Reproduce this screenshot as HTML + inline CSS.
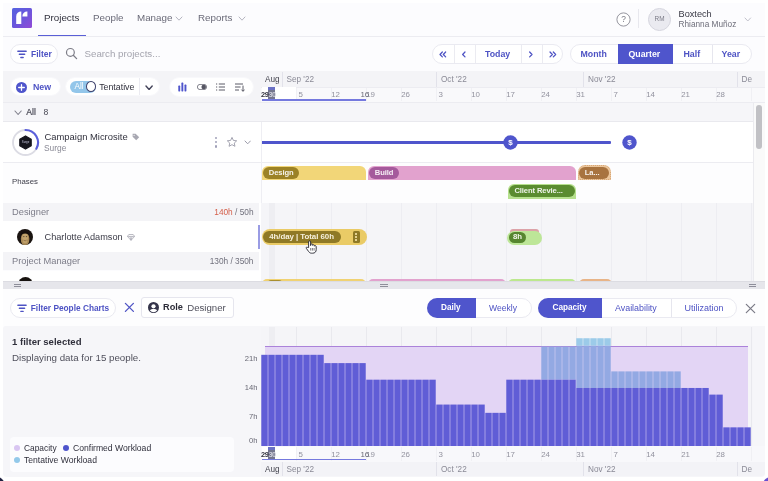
<!DOCTYPE html>
<html lang="en"><head><meta charset="utf-8"><title>Projects</title>
<style>
*{box-sizing:border-box;margin:0;padding:0}
html,body{width:768px;height:481px;overflow:hidden;background:#fff}
body{font-family:"Liberation Sans",sans-serif;position:relative;color:#3c3c4a;-webkit-font-smoothing:antialiased}
.a{position:absolute}
.t{position:absolute;white-space:nowrap;line-height:1}
.pill{position:absolute;border:1px solid #eaeaf1;border-radius:10px;background:#fff}
.b{font-weight:bold}
.wl{position:absolute;width:1px;background:#e6e6ec}
</style></head>
<body>
<div id="root" style="position:absolute;left:0;top:0;width:768px;height:481px;will-change:transform;transform:translateZ(0);filter:blur(0.35px)">
<div class="a" style="left:3px;top:3px;width:762px;height:474px;background:#fcfcfe;border-radius:0 0 4px 4px"></div>
<div class="a" style="left:3px;top:36px;width:762px;height:1px;background:#ececf1"></div>
<svg class="a" style="left:12px;top:8px" width="20" height="20" viewBox="0 0 20 20">
<defs><linearGradient id="lg" x1="0" y1="0" x2="1" y2="1"><stop offset="0" stop-color="#5563e0"/><stop offset="0.5" stop-color="#6a56dc"/><stop offset="1" stop-color="#9149d6"/></linearGradient></defs>
<rect width="20" height="20" rx="1.5" fill="url(#lg)"/>
<path d="M4.2 15.9V8.4A4.9 4.9 0 0 1 9.3 3.5V15.9Z" fill="#fff"/>
<path d="M10.4 8.6V8.3A4.6 4.6 0 0 1 15.4 3.6V8.6Z" fill="#fff"/>
</svg>
<div class="t" id="nav1" style="left:44px;top:13px;font-size:9.8px;color:#33333f;">Projects</div>
<div class="t" id="nav2" style="left:93px;top:13px;font-size:9.8px;color:#6a6a78;">People</div>
<div class="t" id="nav3" style="left:137px;top:13px;font-size:9.8px;color:#6a6a78;">Manage</div>
<div class="t" id="nav4" style="left:198px;top:13px;font-size:9.8px;color:#6a6a78;">Reports</div>
<svg class="a" style="left:175px;top:16px" width="8" height="5.2" viewBox="-1 -1 8 5.2"><path d="M0 0L3.0 3.2L6 0" fill="none" stroke="#b5b5c0" stroke-width="1" stroke-linecap="round" stroke-linejoin="round"/></svg>
<svg class="a" style="left:238px;top:16px" width="8" height="5.2" viewBox="-1 -1 8 5.2"><path d="M0 0L3.0 3.2L6 0" fill="none" stroke="#b5b5c0" stroke-width="1" stroke-linecap="round" stroke-linejoin="round"/></svg>
<div class="a" style="left:37.5px;top:34.6px;width:48.5px;height:1.6px;background:#5a5fd6"></div>
<svg class="a" style="left:616px;top:11.5px" width="15" height="15" viewBox="0 0 15 15"><circle cx="7.5" cy="7.5" r="6.6" fill="#fff" stroke="#8a8a94" stroke-width="0.9"/><text x="7.5" y="10.4" font-size="8.4" text-anchor="middle" fill="#777782" font-family="Liberation Sans, sans-serif">?</text></svg>
<div class="a" style="left:638.4px;top:8.5px;width:1px;height:19.5px;background:#e8e8ee"></div>
<div class="a" style="left:647.8px;top:7.9px;width:23.6px;height:23.6px;border-radius:50%;background:#eaeaf0;border:1px solid #d6d6df"></div>
<div class="t" id="rm" style="left:654.4px;top:16.2px;font-size:6.4px;color:#7a7a86;letter-spacing:0.2px">RM</div>
<div class="t" id="box" style="left:678.5px;top:9.9px;font-size:9.2px;color:#383844;">Boxtech</div>
<div class="t" id="rhi" style="left:678.5px;top:20.9px;font-size:8.25px;color:#6e6e7a;">Rhianna Muñoz</div>
<svg class="a" style="left:744.2px;top:17.2px" width="7.6" height="5" viewBox="-1 -1 7.6 5"><path d="M0 0L2.8 3L5.6 0" fill="none" stroke="#c2c2cc" stroke-width="1" stroke-linecap="round" stroke-linejoin="round"/></svg>
<div class="pill" style="left:10px;top:44px;width:48px;height:20px;"></div>
<svg class="a" style="left:17px;top:49.5px" width="10" height="9" viewBox="0 0 10 9"><g stroke="#4e53c4" stroke-width="1.5" stroke-linecap="round"><path d="M0.9 1.2H9.1"/><path d="M2.4 4.3H7.6"/><path d="M3.9 7.4H6.1"/></g></svg>
<div class="t" id="filter" style="left:31px;top:49.9px;font-size:8.5px;color:#4e53c4;font-weight:bold">Filter</div>
<svg class="a" style="left:65px;top:47px" width="13" height="13" viewBox="0 0 13 13"><circle cx="5.4" cy="5.4" r="3.9" fill="none" stroke="#7c7c86" stroke-width="1.2"/><path d="M8.3 8.3L11.6 11.6" stroke="#7c7c86" stroke-width="1.3" stroke-linecap="round"/></svg>
<div class="t" id="search" style="left:84.5px;top:49.4px;font-size:9.75px;color:#a4a4ae;">Search projects...</div>
<div class="pill" style="left:432px;top:44px;width:131px;height:20px;"></div>
<div class="a" style="left:453.5px;top:45px;width:1px;height:18px;background:#ebebf1"></div>
<div class="a" style="left:474.5px;top:45px;width:1px;height:18px;background:#ebebf1"></div>
<div class="a" style="left:521px;top:45px;width:1px;height:18px;background:#ebebf1"></div>
<div class="a" style="left:542px;top:45px;width:1px;height:18px;background:#ebebf1"></div>
<svg class="a" style="left:439px;top:50.6px" width="9" height="8" viewBox="-1 -1 9 8"><path d="M2.35 0L0 2.45L2.35 4.9 M5.65 0L3.3 2.45L5.65 4.9" fill="none" stroke="#4e53c4" stroke-width="1.25" stroke-linecap="round" stroke-linejoin="round"/></svg>
<svg class="a" style="left:460.3px;top:50.6px" width="9" height="8" viewBox="-1 -1 9 8"><path d="M4.0 0L1.65 2.45L4.0 4.9" fill="none" stroke="#4e53c4" stroke-width="1.25" stroke-linecap="round" stroke-linejoin="round"/></svg>
<div class="t" id="today" style="left:485px;top:49.6px;font-size:8.8px;color:#4e53c4;font-weight:bold">Today</div>
<svg class="a" style="left:527.3px;top:50.6px" width="9" height="8" viewBox="-1 -1 9 8"><path d="M1.65 0L4.0 2.45L1.65 4.9" fill="none" stroke="#4e53c4" stroke-width="1.25" stroke-linecap="round" stroke-linejoin="round"/></svg>
<svg class="a" style="left:549px;top:50.6px" width="9" height="8" viewBox="-1 -1 9 8"><path d="M0 0L2.35 2.45L0 4.9 M3.3 0L5.65 2.45L3.3 4.9" fill="none" stroke="#4e53c4" stroke-width="1.25" stroke-linecap="round" stroke-linejoin="round"/></svg>
<div class="pill" style="left:570px;top:44px;width:181.5px;height:20px;overflow:hidden"></div>
<div class="a" style="left:618px;top:44px;width:55px;height:20px;background:#4f55cc"></div>
<div class="a" style="left:711.5px;top:45px;width:1px;height:18px;background:#e6e6ee"></div>
<div class="t" id="month" style="left:580.5px;top:49.6px;font-size:8.8px;color:#4e53c4;font-weight:bold">Month</div>
<div class="t" id="quarter" style="left:628.5px;top:49.6px;font-size:8.8px;color:#fff;font-weight:bold">Quarter</div>
<div class="t" id="half" style="left:683.5px;top:49.6px;font-size:8.8px;color:#4e53c4;font-weight:bold">Half</div>
<div class="t" id="year" style="left:721.5px;top:49.6px;font-size:8.8px;color:#4e53c4;font-weight:bold">Year</div>
<div class="a" style="left:3px;top:70.5px;width:762px;height:32px;background:#f4f4f7"></div>
<div class="a" style="left:3px;top:102px;width:762px;height:20px;background:#f6f6f9;border-top:1px solid #ececf1;border-bottom:1px solid #e9e9ee"></div>
<div class="pill" style="left:10px;top:76.9px;width:51.4px;height:19.2px;border-color:#f8f8fb"></div>
<svg class="a" style="left:16px;top:81.5px" width="11" height="11" viewBox="0 0 11 11"><circle cx="5.5" cy="5.5" r="5.5" fill="#4f55cc"/><path d="M5.5 2.7V8.3M2.7 5.5H8.3" stroke="#fff" stroke-width="1.3" stroke-linecap="round"/></svg>
<div class="t" id="new" style="left:33px;top:82.6px;font-size:8.8px;color:#4e53c4;font-weight:bold">New</div>
<div class="pill" style="left:65.3px;top:76.9px;width:94.4px;height:19.2px;border-color:#f8f8fb"></div>
<div class="a" style="left:138.5px;top:78px;width:1px;height:17px;background:#ebebf1"></div>
<div class="a" style="left:69.5px;top:81px;width:26px;height:11.5px;background:#93c6ea;border-radius:6px"></div>
<div class="t" id="all" style="left:74.5px;top:82.9px;font-size:8.2px;color:#fff;">All</div>
<div class="a" style="left:85.8px;top:81.2px;width:10px;height:10.6px;background:#fff;border:1px solid #43436c;border-radius:50%"></div>
<div class="t" id="tent" style="left:99.2px;top:82.5px;font-size:8.8px;color:#30303c;">Tentative</div>
<svg class="a" style="left:144.9px;top:84.6px" width="8.2" height="5.5" viewBox="-1 -1 8.2 5.5"><path d="M0 0L3.1 3.5L6.2 0" fill="none" stroke="#44445a" stroke-width="1.4" stroke-linecap="round" stroke-linejoin="round"/></svg>
<div class="pill" style="left:168.8px;top:76.9px;width:85px;height:20.2px;border-color:#f8f8fb"></div>
<svg class="a" style="left:178px;top:82px" width="9" height="10" viewBox="0 0 9 10"><g fill="#4f55cc"><rect x="0.3" y="3.6" width="1.9" height="5.8" rx="0.6"/><rect x="3.4" y="0.6" width="1.9" height="8.8" rx="0.6"/><rect x="6.5" y="2.6" width="1.9" height="6.8" rx="0.6"/></g></svg>
<svg class="a" style="left:197px;top:84px" width="10" height="6" viewBox="0 0 10 6"><rect x="0.4" y="0.4" width="9.2" height="5.2" rx="2.6" fill="#fff" stroke="#666672" stroke-width="0.8"/><circle cx="6.7" cy="3" r="2.3" fill="#555562"/></svg>
<svg class="a" style="left:216px;top:82.5px" width="9" height="8" viewBox="0 0 9 8"><g stroke="#5a5a66" stroke-width="1"><path d="M0 1H1.2M2.8 1H9M0 4H1.2M2.8 4H9M0 7H1.2M2.8 7H9"/></g></svg>
<svg class="a" style="left:234.5px;top:82.5px" width="10" height="9" viewBox="0 0 10 9"><g stroke="#5a5a66" stroke-width="1" fill="none"><path d="M0 1H8M0 4H5.6M0 7H4"/><path d="M8 2.6V8.2M6.4 6.6L8 8.3L9.6 6.6"/></g></svg>
<div class="a" style="left:261px;top:87px;width:504px;height:15px;background:#f9f9fb"></div>
<div class="a" style="left:261px;top:86.5px;width:504px;height:0.8px;background:#ececf1"></div>
<div class="a" style="left:282px;top:72px;width:1px;height:14.5px;background:#e2e2ea"></div>
<div class="a" style="left:436px;top:72px;width:1px;height:14.5px;background:#e2e2ea"></div>
<div class="a" style="left:583px;top:72px;width:1px;height:14.5px;background:#e2e2ea"></div>
<div class="a" style="left:737px;top:72px;width:1px;height:14.5px;background:#e2e2ea"></div>
<div class="t" id="aug" style="left:265px;top:76.2px;font-size:8.2px;color:#44444f;">Aug</div>
<div class="t" id="sep" style="left:286.5px;top:76.2px;font-size:8.2px;color:#8a8a96;">Sep '22</div>
<div class="t" style="left:441px;top:76.2px;font-size:8.2px;color:#8a8a96;">Oct '22</div>
<div class="t" style="left:588px;top:76.2px;font-size:8.2px;color:#8a8a96;">Nov '22</div>
<div class="t" style="left:741.5px;top:76.2px;font-size:8.2px;color:#8a8a96;">De</div>
<div class="a" style="left:262px;top:87.3px;width:33.8px;height:12px;background:#fff"></div>
<div class="a" style="left:268.3px;top:87.3px;width:7.2px;height:12px;background:#74768e"></div>
<div class="a" style="left:268.3px;top:87.3px;width:7.2px;height:2.6px;background:#6a70c4"></div>
<div class="a" style="left:296px;top:88px;width:1px;height:13px;background:#f0f0f4"></div>
<div class="t" id="d1" style="left:292.6px;width:16px;text-align:center;top:90.8px;font-size:7.9px;color:#92929e">5</div>
<div class="a" style="left:331px;top:88px;width:1px;height:13px;background:#f0f0f4"></div>
<div class="t" id="d2" style="left:327.6px;width:16px;text-align:center;top:90.8px;font-size:7.9px;color:#92929e">12</div>
<div class="a" style="left:366px;top:88px;width:1px;height:13px;background:#f0f0f4"></div>
<div class="t" id="d3" style="left:362.6px;width:16px;text-align:center;top:90.8px;font-size:7.9px;color:#92929e">19</div>
<div class="a" style="left:401px;top:88px;width:1px;height:13px;background:#f0f0f4"></div>
<div class="t" id="d4" style="left:397.6px;width:16px;text-align:center;top:90.8px;font-size:7.9px;color:#92929e">26</div>
<div class="a" style="left:436px;top:88px;width:1px;height:13px;background:#f0f0f4"></div>
<div class="t" id="d5" style="left:432.6px;width:16px;text-align:center;top:90.8px;font-size:7.9px;color:#92929e">3</div>
<div class="a" style="left:471px;top:88px;width:1px;height:13px;background:#f0f0f4"></div>
<div class="t" id="d6" style="left:467.6px;width:16px;text-align:center;top:90.8px;font-size:7.9px;color:#92929e">10</div>
<div class="a" style="left:506px;top:88px;width:1px;height:13px;background:#f0f0f4"></div>
<div class="t" id="d7" style="left:502.6px;width:16px;text-align:center;top:90.8px;font-size:7.9px;color:#92929e">17</div>
<div class="a" style="left:541px;top:88px;width:1px;height:13px;background:#f0f0f4"></div>
<div class="t" id="d8" style="left:537.6px;width:16px;text-align:center;top:90.8px;font-size:7.9px;color:#92929e">24</div>
<div class="a" style="left:576px;top:88px;width:1px;height:13px;background:#f0f0f4"></div>
<div class="t" id="d9" style="left:572.6px;width:16px;text-align:center;top:90.8px;font-size:7.9px;color:#92929e">31</div>
<div class="a" style="left:611px;top:88px;width:1px;height:13px;background:#f0f0f4"></div>
<div class="t" id="d10" style="left:607.6px;width:16px;text-align:center;top:90.8px;font-size:7.9px;color:#92929e">7</div>
<div class="a" style="left:646px;top:88px;width:1px;height:13px;background:#f0f0f4"></div>
<div class="t" id="d11" style="left:642.6px;width:16px;text-align:center;top:90.8px;font-size:7.9px;color:#92929e">14</div>
<div class="a" style="left:681px;top:88px;width:1px;height:13px;background:#f0f0f4"></div>
<div class="t" id="d12" style="left:677.6px;width:16px;text-align:center;top:90.8px;font-size:7.9px;color:#92929e">21</div>
<div class="a" style="left:716px;top:88px;width:1px;height:13px;background:#f0f0f4"></div>
<div class="t" id="d13" style="left:712.6px;width:16px;text-align:center;top:90.8px;font-size:7.9px;color:#92929e">28</div>
<div class="a" style="left:751px;top:88px;width:1px;height:13px;background:#f0f0f4"></div>
<div class="t" style="left:261px;top:91px;font-size:7.4px;color:#33333f;font-weight:bold;letter-spacing:-0.4px">29</div>
<div class="t" style="left:268.6px;top:91px;font-size:7.4px;color:#d0d0da;font-weight:bold;letter-spacing:-0.6px">30</div>
<div class="t" style="left:360.4px;top:90.8px;font-size:7.9px;color:#6a6a78;">16</div>
<div class="a" style="left:261.5px;top:99.3px;width:104.8px;height:1.25px;background:#7579de"></div>
<svg class="a" style="left:13.8px;top:109.7px" width="8.2" height="5.5" viewBox="-1 -1 8.2 5.5"><path d="M0 0L3.1 3.5L6.2 0" fill="none" stroke="#80808c" stroke-width="1.1" stroke-linecap="round" stroke-linejoin="round"/></svg>
<div class="t" id="allrow" style="left:26.3px;top:107.9px;font-size:8.6px;color:#484854;-webkit-text-stroke:0.2px #484854">All</div>
<div class="t" id="eight" style="left:43.6px;top:107.9px;font-size:8.6px;color:#484854;">8</div>
<div class="a" style="left:3px;top:122px;width:750px;height:39.5px;background:#fff"></div>
<div class="a" style="left:3px;top:161.5px;width:750px;height:1px;background:#ececf1"></div>
<svg class="a" style="left:11px;top:128px" width="29" height="29" viewBox="0 0 29 29">
<circle cx="14.5" cy="14.5" r="12.5" fill="#fff" stroke="#dcdce4" stroke-width="1.9"/>
<path d="M14.5 2A12.5 12.5 0 0 1 25.33 20.75" fill="none" stroke="#5b60dc" stroke-width="2.1" stroke-linecap="round"/>
<path d="M14.5 7.9L20.2 11.2V17.8L14.5 21.1L8.8 17.8V11.2Z" fill="#16161e" stroke="#16161e" stroke-width="1.2" stroke-linejoin="round"/>
<text x="14.5" y="15.4" font-size="2.8" fill="#c8c8e0" text-anchor="middle" font-family="Liberation Sans, sans-serif">Surge</text>
</svg>
<div class="t" id="camp" style="left:44.5px;top:132.3px;font-size:9.42px;color:#33333f;">Campaign Microsite</div>
<svg class="a" style="left:131.5px;top:133px" width="8" height="8" viewBox="0 0 8 8"><path d="M0.6 0.8H3.6L7.2 4.3L4.2 7.3L0.6 3.8Z" fill="#a8a8b2"/><circle cx="2.1" cy="2.3" r="0.6" fill="#fff"/></svg>
<div class="t" id="surge" style="left:44px;top:144px;font-size:8.4px;color:#8a8a96;">Surge</div>
<div class="a" style="left:215px;top:137.0px;width:2.2px;height:2.2px;background:#a0a0b8;border-radius:50%"></div>
<div class="a" style="left:215px;top:141.20000000000002px;width:2.2px;height:2.2px;background:#a0a0b8;border-radius:50%"></div>
<div class="a" style="left:215px;top:145.4px;width:2.2px;height:2.2px;background:#a0a0b8;border-radius:50%"></div>
<svg class="a" style="left:225.6px;top:136.2px" width="12" height="12" viewBox="0 0 24 24"><path d="M12 2.8l2.8 6.1 6.6.7-4.9 4.5 1.4 6.5L12 17.3 6.1 20.6l1.4-6.5L2.6 9.6l6.6-.7z" fill="none" stroke="#9a9aa8" stroke-width="1.8" stroke-linejoin="round"/></svg>
<svg class="a" style="left:243.8px;top:140px" width="7.4" height="4.8" viewBox="-1 -1 7.4 4.8"><path d="M0 0L2.7 2.8L5.4 0" fill="none" stroke="#9a9aa8" stroke-width="1" stroke-linecap="round" stroke-linejoin="round"/></svg>
<div class="a" style="left:261px;top:140.5px;width:350px;height:3px;background:#4f55cc;border-radius:1px"></div>
<svg class="a" style="left:502.5px;top:134.5px" width="15" height="15" viewBox="0 0 15 15"><circle cx="7.5" cy="7.5" r="7.2" fill="#4f55cc"/><text x="7.5" y="10.3" font-size="8" font-weight="bold" fill="#fff" text-anchor="middle" font-family="Liberation Sans, sans-serif">$</text></svg>
<svg class="a" style="left:621.5px;top:134.5px" width="15" height="15" viewBox="0 0 15 15"><circle cx="7.5" cy="7.5" r="7.2" fill="#4f55cc"/><text x="7.5" y="10.3" font-size="8" font-weight="bold" fill="#fff" text-anchor="middle" font-family="Liberation Sans, sans-serif">$</text></svg>
<div class="a" style="left:3px;top:162.5px;width:750px;height:40px;background:#fdfdfe"></div>
<div class="a" style="left:261px;top:122px;width:1px;height:80.5px;background:#eeeef3"></div>
<div class="t" id="phases" style="left:12px;top:178.2px;font-size:7.8px;color:#3c3c48;">Phases</div>
<div class="a" style="left:262px;top:165.7px;width:103.5px;height:14.3px;background:#f2d678;border-radius:6px 6px 0 0;"></div>
<div class="a" style="left:262.8px;top:167.2px;width:36.5px;height:11.8px;background:#9c8226;border-radius:6.5px;"><div class="t" id="design" style="left:6.0px;top:1.80px;font-size:7.6px;color:rgba(255,255,255,0.9);font-weight:bold;letter-spacing:-0.1px">Design</div></div>
<div class="a" style="left:368px;top:165.7px;width:208px;height:14.3px;background:#e2a2ce;border-radius:6px 6px 0 0;"></div>
<div class="a" style="left:368.8px;top:167.2px;width:30px;height:11.8px;background:#a55a9c;border-radius:6.5px;"><div class="t" id="build" style="left:6.0px;top:1.80px;font-size:7.6px;color:rgba(255,255,255,0.9);font-weight:bold;letter-spacing:-0.1px">Build</div></div>
<div class="a" style="left:578px;top:165.4px;width:33.2px;height:14.8px;background:#ecc69c;border-radius:6px 6px 0 0;border:1px dotted #d8a878;border-radius:7px 7px 1px 1px;"></div>
<div class="a" style="left:579.4px;top:166.9px;width:29.6px;height:11.8px;background:#a8733f;border-radius:6.5px;"><div class="t" id="la" style="left:5.4px;top:1.80px;font-size:7.6px;color:rgba(255,255,255,0.9);font-weight:bold;letter-spacing:-0.1px">La...</div></div>
<div class="a" style="left:507.6px;top:184.1px;width:68.6px;height:14.5px;background:#b6e08e;border-radius:6px 6px 0 0;"></div>
<div class="a" style="left:508.6px;top:185.0px;width:66.2px;height:12.4px;background:#5a8c30;border-radius:6.5px;"><div class="t" id="client" style="left:5.8px;top:2.10px;font-size:7.6px;color:rgba(255,255,255,0.9);font-weight:bold;letter-spacing:-0.1px">Client Revie...</div></div>
<div class="a" style="left:3px;top:202.5px;width:750px;height:18.7px;background:#f4f4f7"></div>
<div class="t" id="designer" style="left:12px;top:208.1px;font-size:9.3px;color:#7c7c88;">Designer</div>
<div class="t" id="designerr" style="right:514.5px;top:208.1px;font-size:8.3px;color:#70707c"><span style="color:#d4604c">140h</span> / 50h</div>
<div class="a" style="left:3px;top:221.2px;width:750px;height:31px;background:#fff"></div>
<div class="a" style="left:3px;top:252.2px;width:750px;height:18.3px;background:#f4f4f7"></div>
<div class="t" id="pm" style="left:12px;top:256.8px;font-size:9.3px;color:#7c7c88;">Project Manager</div>
<div class="t" id="pmr" style="right:514.5px;top:256.8px;font-size:8.3px;color:#70707c">130h / 350h</div>
<div class="a" style="left:3px;top:270.5px;width:750px;height:13px;background:#fff"></div>
<div class="a" style="left:261px;top:203px;width:492px;height:80px;background:#f5f5f8"></div>
<div class="a" style="left:296px;top:203px;width:1px;height:80px;background:#ededf2"></div>
<div class="a" style="left:331px;top:203px;width:1px;height:80px;background:#ededf2"></div>
<div class="a" style="left:366px;top:203px;width:1px;height:80px;background:#ededf2"></div>
<div class="a" style="left:401px;top:203px;width:1px;height:80px;background:#ededf2"></div>
<div class="a" style="left:436px;top:203px;width:1px;height:80px;background:#ededf2"></div>
<div class="a" style="left:471px;top:203px;width:1px;height:80px;background:#ededf2"></div>
<div class="a" style="left:506px;top:203px;width:1px;height:80px;background:#ededf2"></div>
<div class="a" style="left:541px;top:203px;width:1px;height:80px;background:#ededf2"></div>
<div class="a" style="left:576px;top:203px;width:1px;height:80px;background:#ededf2"></div>
<div class="a" style="left:611px;top:203px;width:1px;height:80px;background:#ededf2"></div>
<div class="a" style="left:646px;top:203px;width:1px;height:80px;background:#ededf2"></div>
<div class="a" style="left:681px;top:203px;width:1px;height:80px;background:#ededf2"></div>
<div class="a" style="left:716px;top:203px;width:1px;height:80px;background:#ededf2"></div>
<div class="a" style="left:751px;top:203px;width:1px;height:80px;background:#ededf2"></div>
<div class="a" style="left:268.5px;top:203px;width:6.5px;height:80px;background:#eeeef2"></div>
<div class="a" style="left:259px;top:203px;width:2px;height:80px;background:#fff"></div>
<div class="a" style="left:257.8px;top:225px;width:2.2px;height:24px;background:#9a9ce4"></div>
<svg class="a" style="left:17px;top:229px" width="16" height="16" viewBox="0 0 16 16"><defs><clipPath id="av"><circle cx="8" cy="8" r="8"/></clipPath></defs><g clip-path="url(#av)"><rect width="16" height="16" fill="#1a1411"/><ellipse cx="8.1" cy="10" rx="4.3" ry="6.8" fill="#a98a56"/><ellipse cx="8.1" cy="8.4" rx="2.9" ry="3.6" fill="#c4a56e"/><ellipse cx="8.1" cy="12.6" rx="2.4" ry="1.6" fill="#bfa06a"/><path d="M3 9C3 4 5.4 2.4 8.1 2.4S13.2 4 13.2 9C12.4 5.6 10.4 4.4 8.1 4.4S3.8 5.6 3 9Z" fill="#17110e"/><path d="M6.2 7.6h1.2M8.9 7.6h1.2" stroke="#3a2a1c" stroke-width="0.7"/><path d="M6.6 11.2Q8.1 12.3 9.6 11.2" stroke="#7a5a38" stroke-width="0.6" fill="none"/></g></svg>
<div class="t" id="charlotte" style="left:44.5px;top:233.2px;font-size:9.2px;color:#3c3c48;">Charlotte Adamson</div>
<svg class="a" style="left:126.5px;top:233.5px" width="8" height="7" viewBox="0 0 8 7"><path d="M1.8 0.5H6.2L7.6 2.4L4 6.4L0.4 2.4Z M0.4 2.4H7.6 M2.8 2.4L4 6.2L5.2 2.4" fill="none" stroke="#a0a0ac" stroke-width="0.7" stroke-linejoin="round"/></svg>
<div class="a" style="left:262px;top:228.7px;width:104.5px;height:16.6px;background:#eacb66;border-radius:8px"></div>
<div class="a" style="left:263.4px;top:230.7px;width:78px;height:12.4px;background:#8f7926;border-radius:7px"><div class="t" id="assign" style="left:5.8px;top:2.3px;font-size:7.9px;color:#f6f0dc;font-weight:bold;letter-spacing:-0.05px">4h/day | Total 60h</div></div>
<div class="a" style="left:352.5px;top:230.8px;width:7px;height:12.2px;background:#8f7926;border-radius:1.5px"></div>
<div class="a" style="left:355.2px;top:233.4px;width:1.6px;height:1.6px;background:#f4e4a8;border-radius:50%"></div>
<div class="a" style="left:355.2px;top:236.4px;width:1.6px;height:1.6px;background:#f4e4a8;border-radius:50%"></div>
<div class="a" style="left:355.2px;top:239.4px;width:1.6px;height:1.6px;background:#f4e4a8;border-radius:50%"></div>
<div class="a" style="left:510px;top:228.6px;width:28.8px;height:5px;background:#dca2a8;border-radius:3px 3px 0 0"></div>
<div class="a" style="left:507.4px;top:231px;width:34.3px;height:14px;background:#bde698;border-radius:7px"></div>
<div class="a" style="left:509.4px;top:231.6px;width:16.8px;height:11.7px;background:#56862f;border-radius:6px"><div class="t" id="eighth" style="left:3.5px;top:1.9px;font-size:7.8px;color:#f2f6ea;font-weight:bold">8h</div></div>
<svg class="a" style="left:305px;top:240px" width="13" height="14" viewBox="0 0 13 14"><path d="M3.6 7.6V1.9a1 1 0 0 1 2 0V5.6l0.2-0.9a0.95 0.95 0 0 1 1.9 0.1v0.6a0.95 0.95 0 0 1 1.8 0.2v0.6a0.9 0.9 0 0 1 1.7 0.3V9.6c0 2.2-1.3 3.6-3.6 3.6H6.6c-1.4 0-2.2-0.6-3-1.7L1.3 8.3c-0.5-0.8 0.5-1.6 1.2-0.9z" fill="#fff" stroke="#22222c" stroke-width="0.9" stroke-linejoin="round"/><path d="M5.7 8V10.6M7.4 8V10.6M9.1 8V10.6" stroke="#22222c" stroke-width="0.6"/></svg>
<div class="a" style="left:17.5px;top:277.2px;width:15px;height:8px;background:#17120f;border-radius:8px 8px 0 0"></div>
<div class="a" style="left:262px;top:278.5px;width:103.5px;height:6px;background:#f0d273;border-radius:5px 5px 0 0"></div>
<div class="a" style="left:267.5px;top:280.3px;width:14px;height:4px;background:#a88e30;border-radius:3px 3px 0 0"></div>
<div class="a" style="left:368px;top:278.5px;width:137.5px;height:6px;background:#e2a2ce;border-radius:5px 5px 0 0"></div>
<div class="a" style="left:372px;top:280.5px;width:15px;height:4px;background:#b871ac;border-radius:3px 3px 0 0"></div>
<div class="a" style="left:508px;top:278.5px;width:68px;height:6px;background:#bce88e;border-radius:5px 5px 0 0"></div>
<div class="a" style="left:511.5px;top:280.5px;width:15px;height:4px;background:#7aa84e;border-radius:3px 3px 0 0"></div>
<div class="a" style="left:579px;top:278.5px;width:32.5px;height:6px;background:#e8b488;border-radius:5px 5px 0 0"></div>
<div class="a" style="left:581px;top:280.5px;width:11px;height:4px;background:#b8854f;border-radius:3px 3px 0 0"></div>
<div class="a" style="left:753px;top:103px;width:12px;height:180px;background:#fafafa;border-left:1px solid #ebebef"></div>
<div class="a" style="left:756.4px;top:105.3px;width:6px;height:44.2px;background:#c1c1c5;border-radius:3px"></div>
<div class="a" style="left:3px;top:281.4px;width:762px;height:7.6px;background:#e6e6eb;border-top:1px solid #dcdce2"></div>
<div class="a" style="left:13.5px;top:284px;width:7px;height:0.9px;background:#8e8e9a"></div>
<div class="a" style="left:13.5px;top:285.9px;width:7px;height:0.9px;background:#8e8e9a"></div>
<div class="a" style="left:380.0px;top:284px;width:8px;height:0.9px;background:#8e8e9a"></div>
<div class="a" style="left:380.0px;top:285.9px;width:8px;height:0.9px;background:#8e8e9a"></div>
<div class="a" style="left:748.5px;top:284px;width:7px;height:0.9px;background:#8e8e9a"></div>
<div class="a" style="left:748.5px;top:285.9px;width:7px;height:0.9px;background:#8e8e9a"></div>
<div class="a" style="left:3px;top:289px;width:762px;height:36.5px;background:#fdfdfe"></div>
<div class="pill" style="left:10px;top:298px;width:106px;height:19.5px;"></div>
<svg class="a" style="left:17px;top:303.5px" width="10" height="9" viewBox="0 0 10 9"><g stroke="#4e53c4" stroke-width="1.4" stroke-linecap="round"><path d="M0.9 1.2H9.1"/><path d="M2.4 4.3H7.6"/><path d="M3.9 7.4H6.1"/></g></svg>
<div class="t" id="fpc" style="left:30.8px;top:303.8px;font-size:8.3px;color:#4e53c4;font-weight:bold">Filter People Charts</div>
<svg class="a" style="left:124.4px;top:302.4px" width="11" height="11" viewBox="0 0 11 11"><path d="M1.4 1.4L9.4 9.4M9.4 1.4L1.4 9.4" stroke="#4e53c4" stroke-width="1.3" stroke-linecap="round"/></svg>
<div class="a" style="left:141px;top:297px;width:93px;height:21px;border:1px solid #e6e6ee;border-radius:3px;background:#fff"></div>
<svg class="a" style="left:147.5px;top:302px" width="11" height="11" viewBox="0 0 11 11"><circle cx="5.5" cy="5.5" r="5.5" fill="#34344a"/><circle cx="5.5" cy="4.3" r="2.1" fill="#fff"/><path d="M1.9 8.6C2.6 7.1 4 6.9 5.5 6.9S8.4 7.1 9.1 8.6A4.6 4.6 0 0 1 1.9 8.6Z" fill="#fff"/></svg>
<div class="t" id="role" style="left:163px;top:302.8px;font-size:9.2px;color:#2c2c38;font-weight:bold">Role</div>
<div class="t" id="roled" style="left:187.2px;top:302.7px;font-size:9.65px;color:#50505c;">Designer</div>
<div class="pill" style="left:427px;top:298px;width:104.5px;height:19.5px;overflow:hidden"></div>
<div class="a" style="left:427px;top:298px;width:49px;height:19.5px;background:#4f55cc;border-radius:10px 0 0 10px"></div>
<div class="t" id="daily" style="left:441px;top:303.8px;font-size:8.2px;color:#fff;font-weight:bold">Daily</div>
<div class="t" id="weekly" style="left:489px;top:303.6px;font-size:8.6px;color:#4e53c4;">Weekly</div>
<div class="pill" style="left:538px;top:298px;width:199px;height:19.5px;overflow:hidden"></div>
<div class="a" style="left:538px;top:298px;width:63.5px;height:19.5px;background:#4f55cc;border-radius:10px 0 0 10px"></div>
<div class="a" style="left:671px;top:299px;width:1px;height:17.5px;background:#e6e6ee"></div>
<div class="t" id="capb" style="left:552.5px;top:303.8px;font-size:8.2px;color:#fff;font-weight:bold">Capacity</div>
<div class="t" id="avail" style="left:615px;top:303.5px;font-size:8.9px;color:#4e53c4;">Availability</div>
<div class="t" id="util" style="left:684.5px;top:303.5px;font-size:9.0px;color:#4e53c4;">Utilization</div>
<svg class="a" style="left:744.5px;top:302.5px" width="11" height="11" viewBox="0 0 11 11"><path d="M1.3 1.3L9.7 9.7M9.7 1.3L1.3 9.7" stroke="#7a7a86" stroke-width="1.2" stroke-linecap="round"/></svg>
<div class="a" style="left:3px;top:325.5px;width:762px;height:151px;background:#f6f6f9;border-radius:3px 0 4px 4px"></div>
<div class="t" id="f1" style="left:12px;top:337.2px;font-size:9.55px;color:#30303c;font-weight:bold">1 filter selected</div>
<div class="t" id="f2" style="left:12px;top:353.2px;font-size:9.75px;color:#50505c;">Displaying data for 15 people.</div>
<div class="a" style="left:9.6px;top:436.7px;width:224px;height:35.6px;background:#fcfcfe;border-radius:4px"></div>
<div class="a" style="left:13.8px;top:444.8px;width:6.6px;height:6.6px;background:#d9c6f2;border-radius:50%"></div>
<div class="t" id="lg1" style="left:24px;top:444px;font-size:8.4px;color:#30303c;">Capacity</div>
<div class="a" style="left:62.6px;top:444.8px;width:6.6px;height:6.6px;background:#4f55cc;border-radius:50%"></div>
<div class="t" id="lg2" style="left:73px;top:444px;font-size:8.6px;color:#30303c;">Confirmed Workload</div>
<div class="a" style="left:13.8px;top:456.6px;width:6.6px;height:6.6px;background:#93c9ea;border-radius:50%"></div>
<div class="t" id="lg3" style="left:24px;top:456px;font-size:8.6px;color:#30303c;">Tentative Workload</div>
<div class="a" style="left:261px;top:327px;width:492px;height:119px;background:#f5f5f8"></div>
<div class="a" style="left:296px;top:327px;width:1px;height:119px;background:#e9e9ee"></div>
<div class="a" style="left:331px;top:327px;width:1px;height:119px;background:#e9e9ee"></div>
<div class="a" style="left:366px;top:327px;width:1px;height:119px;background:#e9e9ee"></div>
<div class="a" style="left:401px;top:327px;width:1px;height:119px;background:#e9e9ee"></div>
<div class="a" style="left:436px;top:327px;width:1px;height:119px;background:#e9e9ee"></div>
<div class="a" style="left:471px;top:327px;width:1px;height:119px;background:#e9e9ee"></div>
<div class="a" style="left:506px;top:327px;width:1px;height:119px;background:#e9e9ee"></div>
<div class="a" style="left:541px;top:327px;width:1px;height:119px;background:#e9e9ee"></div>
<div class="a" style="left:576px;top:327px;width:1px;height:119px;background:#e9e9ee"></div>
<div class="a" style="left:611px;top:327px;width:1px;height:119px;background:#e9e9ee"></div>
<div class="a" style="left:646px;top:327px;width:1px;height:119px;background:#e9e9ee"></div>
<div class="a" style="left:681px;top:327px;width:1px;height:119px;background:#e9e9ee"></div>
<div class="a" style="left:716px;top:327px;width:1px;height:119px;background:#e9e9ee"></div>
<div class="a" style="left:751px;top:327px;width:1px;height:119px;background:#e9e9ee"></div>
<div class="a" style="left:268.5px;top:327px;width:6.5px;height:119px;background:#eeeef2"></div>
<div class="t" style="right:510.5px;top:354.9px;font-size:7.6px;color:#686874">21h</div>
<div class="t" style="right:510.5px;top:383.8px;font-size:7.6px;color:#686874">14h</div>
<div class="t" style="right:510.5px;top:412.9px;font-size:7.6px;color:#686874">7h</div>
<div class="t" style="right:510.5px;top:436.5px;font-size:7.6px;color:#686874">0h</div>
<div class="a" style="left:265px;top:345.7px;width:483px;height:100.30000000000001px;background:#e3d5f5;border-top:1px solid #ab82da"></div>
<svg class="a" style="left:261px;top:327px" width="492" height="119" viewBox="0 0 492 119" shape-rendering="auto"><rect x="0.28" y="27.81" width="6.45" height="91.19" fill="#605dd6"/><rect x="7.28" y="27.81" width="6.45" height="91.19" fill="#605dd6"/><rect x="14.28" y="27.81" width="6.45" height="91.19" fill="#605dd6"/><rect x="21.28" y="27.81" width="6.45" height="91.19" fill="#605dd6"/><rect x="28.28" y="27.81" width="6.45" height="91.19" fill="#605dd6"/><rect x="35.28" y="27.81" width="6.45" height="91.19" fill="#605dd6"/><rect x="42.28" y="27.81" width="6.45" height="91.19" fill="#605dd6"/><rect x="49.28" y="27.81" width="6.45" height="91.19" fill="#605dd6"/><rect x="56.28" y="27.81" width="6.45" height="91.19" fill="#605dd6"/><rect x="63.28" y="36.10" width="6.45" height="82.90" fill="#605dd6"/><rect x="70.28" y="36.10" width="6.45" height="82.90" fill="#605dd6"/><rect x="77.28" y="36.10" width="6.45" height="82.90" fill="#605dd6"/><rect x="84.28" y="36.10" width="6.45" height="82.90" fill="#605dd6"/><rect x="91.28" y="36.10" width="6.45" height="82.90" fill="#605dd6"/><rect x="98.28" y="36.10" width="6.45" height="82.90" fill="#605dd6"/><rect x="105.28" y="52.68" width="6.45" height="66.32" fill="#605dd6"/><rect x="112.28" y="52.68" width="6.45" height="66.32" fill="#605dd6"/><rect x="119.28" y="52.68" width="6.45" height="66.32" fill="#605dd6"/><rect x="126.28" y="52.68" width="6.45" height="66.32" fill="#605dd6"/><rect x="133.28" y="52.68" width="6.45" height="66.32" fill="#605dd6"/><rect x="140.28" y="52.68" width="6.45" height="66.32" fill="#605dd6"/><rect x="147.28" y="52.68" width="6.45" height="66.32" fill="#605dd6"/><rect x="154.28" y="52.68" width="6.45" height="66.32" fill="#605dd6"/><rect x="161.28" y="52.68" width="6.45" height="66.32" fill="#605dd6"/><rect x="168.28" y="52.68" width="6.45" height="66.32" fill="#605dd6"/><rect x="175.28" y="77.55" width="6.45" height="41.45" fill="#605dd6"/><rect x="182.28" y="77.55" width="6.45" height="41.45" fill="#605dd6"/><rect x="189.28" y="77.55" width="6.45" height="41.45" fill="#605dd6"/><rect x="196.28" y="77.55" width="6.45" height="41.45" fill="#605dd6"/><rect x="203.28" y="77.55" width="6.45" height="41.45" fill="#605dd6"/><rect x="210.28" y="77.55" width="6.45" height="41.45" fill="#605dd6"/><rect x="217.28" y="77.55" width="6.45" height="41.45" fill="#605dd6"/><rect x="224.28" y="85.84" width="6.45" height="33.16" fill="#605dd6"/><rect x="231.28" y="85.84" width="6.45" height="33.16" fill="#605dd6"/><rect x="238.28" y="85.84" width="6.45" height="33.16" fill="#605dd6"/><rect x="245.28" y="52.68" width="6.45" height="66.32" fill="#605dd6"/><rect x="252.28" y="52.68" width="6.45" height="66.32" fill="#605dd6"/><rect x="259.28" y="52.68" width="6.45" height="66.32" fill="#605dd6"/><rect x="266.28" y="52.68" width="6.45" height="66.32" fill="#605dd6"/><rect x="273.28" y="52.68" width="6.45" height="66.32" fill="#605dd6"/><rect x="280.28" y="19.52" width="6.45" height="33.16" fill="#93a9e3"/><rect x="280.28" y="52.68" width="6.45" height="66.32" fill="#605dd6"/><rect x="287.28" y="19.52" width="6.45" height="33.16" fill="#93a9e3"/><rect x="287.28" y="52.68" width="6.45" height="66.32" fill="#605dd6"/><rect x="294.28" y="19.52" width="6.45" height="33.16" fill="#93a9e3"/><rect x="294.28" y="52.68" width="6.45" height="66.32" fill="#605dd6"/><rect x="301.28" y="19.52" width="6.45" height="33.16" fill="#93a9e3"/><rect x="301.28" y="52.68" width="6.45" height="66.32" fill="#605dd6"/><rect x="308.28" y="19.52" width="6.45" height="33.16" fill="#93a9e3"/><rect x="308.28" y="52.68" width="6.45" height="66.32" fill="#605dd6"/><rect x="315.28" y="11.23" width="6.45" height="7.47" fill="#9ccbe9"/><rect x="315.28" y="18.70" width="6.45" height="42.27" fill="#93a9e3"/><rect x="315.28" y="60.97" width="6.45" height="58.03" fill="#605dd6"/><rect x="322.28" y="11.23" width="6.45" height="7.47" fill="#9ccbe9"/><rect x="322.28" y="18.70" width="6.45" height="42.27" fill="#93a9e3"/><rect x="322.28" y="60.97" width="6.45" height="58.03" fill="#605dd6"/><rect x="329.28" y="11.23" width="6.45" height="7.47" fill="#9ccbe9"/><rect x="329.28" y="18.70" width="6.45" height="42.27" fill="#93a9e3"/><rect x="329.28" y="60.97" width="6.45" height="58.03" fill="#605dd6"/><rect x="336.28" y="11.23" width="6.45" height="7.47" fill="#9ccbe9"/><rect x="336.28" y="18.70" width="6.45" height="42.27" fill="#93a9e3"/><rect x="336.28" y="60.97" width="6.45" height="58.03" fill="#605dd6"/><rect x="343.28" y="11.23" width="6.45" height="7.47" fill="#9ccbe9"/><rect x="343.28" y="18.70" width="6.45" height="42.27" fill="#93a9e3"/><rect x="343.28" y="60.97" width="6.45" height="58.03" fill="#605dd6"/><rect x="350.28" y="44.39" width="6.45" height="16.58" fill="#93a9e3"/><rect x="350.28" y="60.97" width="6.45" height="58.03" fill="#605dd6"/><rect x="357.28" y="44.39" width="6.45" height="16.58" fill="#93a9e3"/><rect x="357.28" y="60.97" width="6.45" height="58.03" fill="#605dd6"/><rect x="364.28" y="44.39" width="6.45" height="16.58" fill="#93a9e3"/><rect x="364.28" y="60.97" width="6.45" height="58.03" fill="#605dd6"/><rect x="371.28" y="44.39" width="6.45" height="16.58" fill="#93a9e3"/><rect x="371.28" y="60.97" width="6.45" height="58.03" fill="#605dd6"/><rect x="378.28" y="44.39" width="6.45" height="16.58" fill="#93a9e3"/><rect x="378.28" y="60.97" width="6.45" height="58.03" fill="#605dd6"/><rect x="385.28" y="44.39" width="6.45" height="16.58" fill="#93a9e3"/><rect x="385.28" y="60.97" width="6.45" height="58.03" fill="#605dd6"/><rect x="392.28" y="44.39" width="6.45" height="16.58" fill="#93a9e3"/><rect x="392.28" y="60.97" width="6.45" height="58.03" fill="#605dd6"/><rect x="399.28" y="44.39" width="6.45" height="16.58" fill="#93a9e3"/><rect x="399.28" y="60.97" width="6.45" height="58.03" fill="#605dd6"/><rect x="406.28" y="44.39" width="6.45" height="16.58" fill="#93a9e3"/><rect x="406.28" y="60.97" width="6.45" height="58.03" fill="#605dd6"/><rect x="413.28" y="44.39" width="6.45" height="16.58" fill="#93a9e3"/><rect x="413.28" y="60.97" width="6.45" height="58.03" fill="#605dd6"/><rect x="420.28" y="60.97" width="6.45" height="58.03" fill="#605dd6"/><rect x="427.28" y="60.97" width="6.45" height="58.03" fill="#605dd6"/><rect x="434.28" y="60.97" width="6.45" height="58.03" fill="#605dd6"/><rect x="441.28" y="60.97" width="6.45" height="58.03" fill="#605dd6"/><rect x="448.28" y="67.60" width="6.45" height="51.40" fill="#605dd6"/><rect x="455.28" y="67.60" width="6.45" height="51.40" fill="#605dd6"/><rect x="462.28" y="100.35" width="6.45" height="18.65" fill="#605dd6"/><rect x="469.28" y="100.35" width="6.45" height="18.65" fill="#605dd6"/><rect x="476.28" y="100.35" width="6.45" height="18.65" fill="#605dd6"/><rect x="483.28" y="100.35" width="6.45" height="18.65" fill="#605dd6"/></svg>
<div class="a" style="left:261px;top:446px;width:504px;height:15.5px;background:#f8f8fb"></div>
<div class="a" style="left:261px;top:461.5px;width:504px;height:14px;background:#f3f3f7;border-radius:0 0 4px 0"></div>
<div class="a" style="left:262px;top:447.2px;width:33.8px;height:12px;background:#fff"></div>
<div class="a" style="left:268.3px;top:447.2px;width:7.2px;height:12px;background:#74768e"></div>
<div class="a" style="left:268.3px;top:447.2px;width:7.2px;height:2.6px;background:#6a70c4"></div>
<div class="a" style="left:296px;top:446.5px;width:1px;height:14.5px;background:#f0f0f4"></div>
<div class="t" style="left:292.6px;width:16px;text-align:center;top:451px;font-size:7.9px;color:#92929e">5</div>
<div class="a" style="left:331px;top:446.5px;width:1px;height:14.5px;background:#f0f0f4"></div>
<div class="t" style="left:327.6px;width:16px;text-align:center;top:451px;font-size:7.9px;color:#92929e">12</div>
<div class="a" style="left:366px;top:446.5px;width:1px;height:14.5px;background:#f0f0f4"></div>
<div class="t" style="left:362.6px;width:16px;text-align:center;top:451px;font-size:7.9px;color:#92929e">19</div>
<div class="a" style="left:401px;top:446.5px;width:1px;height:14.5px;background:#f0f0f4"></div>
<div class="t" style="left:397.6px;width:16px;text-align:center;top:451px;font-size:7.9px;color:#92929e">26</div>
<div class="a" style="left:436px;top:446.5px;width:1px;height:14.5px;background:#f0f0f4"></div>
<div class="t" style="left:432.6px;width:16px;text-align:center;top:451px;font-size:7.9px;color:#92929e">3</div>
<div class="a" style="left:471px;top:446.5px;width:1px;height:14.5px;background:#f0f0f4"></div>
<div class="t" style="left:467.6px;width:16px;text-align:center;top:451px;font-size:7.9px;color:#92929e">10</div>
<div class="a" style="left:506px;top:446.5px;width:1px;height:14.5px;background:#f0f0f4"></div>
<div class="t" style="left:502.6px;width:16px;text-align:center;top:451px;font-size:7.9px;color:#92929e">17</div>
<div class="a" style="left:541px;top:446.5px;width:1px;height:14.5px;background:#f0f0f4"></div>
<div class="t" style="left:537.6px;width:16px;text-align:center;top:451px;font-size:7.9px;color:#92929e">24</div>
<div class="a" style="left:576px;top:446.5px;width:1px;height:14.5px;background:#f0f0f4"></div>
<div class="t" style="left:572.6px;width:16px;text-align:center;top:451px;font-size:7.9px;color:#92929e">31</div>
<div class="a" style="left:611px;top:446.5px;width:1px;height:14.5px;background:#f0f0f4"></div>
<div class="t" style="left:607.6px;width:16px;text-align:center;top:451px;font-size:7.9px;color:#92929e">7</div>
<div class="a" style="left:646px;top:446.5px;width:1px;height:14.5px;background:#f0f0f4"></div>
<div class="t" style="left:642.6px;width:16px;text-align:center;top:451px;font-size:7.9px;color:#92929e">14</div>
<div class="a" style="left:681px;top:446.5px;width:1px;height:14.5px;background:#f0f0f4"></div>
<div class="t" style="left:677.6px;width:16px;text-align:center;top:451px;font-size:7.9px;color:#92929e">21</div>
<div class="a" style="left:716px;top:446.5px;width:1px;height:14.5px;background:#f0f0f4"></div>
<div class="t" style="left:712.6px;width:16px;text-align:center;top:451px;font-size:7.9px;color:#92929e">28</div>
<div class="a" style="left:751px;top:446.5px;width:1px;height:14.5px;background:#f0f0f4"></div>
<div class="t" style="left:261px;top:451.2px;font-size:7.4px;color:#33333f;font-weight:bold;letter-spacing:-0.4px">29</div>
<div class="t" style="left:268.6px;top:451.2px;font-size:7.4px;color:#d0d0da;font-weight:bold;letter-spacing:-0.6px">30</div>
<div class="t" style="left:360.4px;top:451px;font-size:7.9px;color:#6a6a78;">16</div>
<div class="a" style="left:261.5px;top:459.2px;width:104.8px;height:1.25px;background:#7579de"></div>
<div class="a" style="left:282px;top:462px;width:1px;height:13.5px;background:#e2e2ea"></div>
<div class="a" style="left:436px;top:462px;width:1px;height:13.5px;background:#e2e2ea"></div>
<div class="a" style="left:583px;top:462px;width:1px;height:13.5px;background:#e2e2ea"></div>
<div class="a" style="left:737px;top:462px;width:1px;height:13.5px;background:#e2e2ea"></div>
<div class="t" style="left:265px;top:465.6px;font-size:8.2px;color:#44444f;">Aug</div>
<div class="t" style="left:286.5px;top:465.6px;font-size:8.2px;color:#8a8a96;">Sep '22</div>
<div class="t" style="left:441px;top:465.6px;font-size:8.2px;color:#8a8a96;">Oct '22</div>
<div class="t" style="left:588px;top:465.6px;font-size:8.2px;color:#8a8a96;">Nov '22</div>
<div class="t" style="left:741.5px;top:465.6px;font-size:8.2px;color:#8a8a96;">De</div>
<svg class="a" style="left:0;top:474px" width="8" height="7" viewBox="0 0 8 7"><path d="M0 3.4C1.4 4.2 2.8 5.6 3.6 7H0Z" fill="#1f2140"/></svg>
<svg class="a" style="left:758px;top:474px" width="10" height="7" viewBox="0 0 10 7"><path d="M10 3.4C8.2 4.2 6.6 5.6 5.8 7H10Z" fill="#6a4fd0"/></svg>
</div>
</body></html>
